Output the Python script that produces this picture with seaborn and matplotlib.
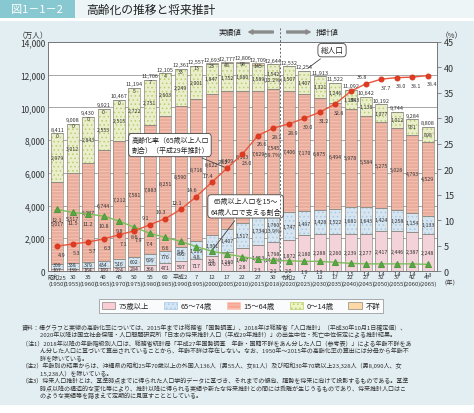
import numpy as np
import pandas as pd
import matplotlib
matplotlib.use('Agg')
import matplotlib.pyplot as plt
from matplotlib.patches import Patch, Rectangle, FancyArrowPatch
from matplotlib.lines import Line2D
import seaborn as sns

years = ['1950', '1955', '1960', '1965', '1970', '1975', '1980', '1985', '1990', '1995',
         '2000', '2005', '2010', '2015', '2018', '2020', '2025', '2030', '2035', '2040',
         '2045', '2050', '2055', '2060', '2065']
era = ['昭和25', '30', '35', '40', '45', '50', '55', '60', '平成2', '7', '12', '17', '22',
       '27', '30', '令和2', '7', '12', '17', '22', '27', '32', '37', '42', '47']
total = [8411, 9008, 9430, 9921, 10467, 11194, 11706, 12105, 12361, 12557, 12693, 12777,
         12806, 12709, 12644, 12532, 12254, 11913, 11522, 11092, 10642, 10192, 9744, 9284, 8808]
age_75 = [107, 139, 164, 189, 224, 284, 366, 471, 597, 717, 900, 1160, 1407, 1613, 1798,
          1872, 2180, 2288, 2260, 2239, 2277, 2417, 2446, 2387, 2248]
age_65_74 = [309, 338, 379, 434, 516, 602, 699, 776, 892, 1109, 1301, 1407, 1517, 1734, 1760,
             1747, 1497, 1428, 1522, 1681, 1643, 1424, 1258, 1154, 1133]
age_15_64 = [5017, 5517, 6047, 6744, 7212, 7581, 7883, 8251, 8590, 8716, 8622, 8409, 8103,
             7629, 7545, 7406, 7170, 6875, 6494, 5978, 5584, 5275, 5028, 4793, 4529]
age_0_14 = [2979, 3012, 2843, 2553, 2515, 2722, 2751, 2603, 2249, 2001, 1847, 1752, 1680,
            1589, 1542, 1507, 1407, 1321, 1246, 1194, 1138, 1077, 1012, 951, 898]
unknown = [0, 0, 0, 0, 0, 5, 7, 4, 33, 13, 23, 48, 98, 145, 0, 0, 0, 0, 0, 0, 0, 0, 0, 0, 0]
aging_rate = [4.9, 5.3, 5.7, 6.3, 7.1, 7.9, 9.1, 10.3, 12.1, 14.6, 17.4, 20.2, 23.0, 26.6,
              28.1, 28.9, 30.0, 31.2, 32.8, 35.3, 36.8, 37.7, 38.0, 38.1, 38.4]
support = [12.1, 11.5, 11.2, 10.8, 9.8, 8.6, 7.4, 6.6, 5.8, 4.8, 3.9, 3.3, 2.8, 2.3, 2.1,
           2.0, 1.9, 1.9, 1.7, 1.5, 1.4, 1.4, 1.4, 1.4, 1.3]
pct_2018 = {'age_0_14': '12.2%', 'age_15_64': '59.7%', 'age_65_74': '13.9%', 'age_75': '14.2%'}

notes = [
    '資料：棒グラフと実線の高齢化率については、2015年までは総務省「国勢調査」、2018年は総務省「人口推計」（平成30年10月1日確定値）、',
    '　　　2020年以降は国立社会保障・人口問題研究所「日本の将来推計人口（平成29年推計）」の出生中位・死亡中位仮定による推計結果。',
    '（注1）2018年以降の年齢階級別人口は、総務省統計局「平成27年国勢調査　年齢・国籍不詳をあん分した人口（参考表）」による年齢不詳をあ',
    '　　　ん分した人口に基づいて算出されていることから、年齢不詳は存在しない。なお、1950年～2015年の高齢化率の算出には分母から年齢不',
    '　　　詳を除いている。',
    '（注2）年齢別の結果からは、沖縄県の昭和25年70歳以上の外国人136人（男55人、女81人）及び昭和30年70歳以上23,328人（男8,090人、女',
    '　　　15,238人）を除いている。',
    '（注3）将来人口推計とは、基準時点までに得られた人口学的データに基づき、それまでの傾向、趨勢を将来に向けて投影するものである。基準',
    '　　　時点以降の構造的な変化等により、推計以降に得られる実績や新たな将来推計との間には乖離が生じうるものであり、将来推計人口はこ',
    '　　　のような実績等を踏まえて定期的に見直すこととしている。',
]

df = pd.DataFrame({'year': years, 'age_75': age_75, 'age_65_74': age_65_74,
                   'age_15_64': age_15_64, 'age_0_14': age_0_14, 'unknown': unknown})

sns.set_theme(style='white')
plt.rcParams['font.family'] = ['Noto Sans CJK JP', 'DejaVu Sans']
plt.rcParams['hatch.linewidth'] = 0.6

W, H = 474, 414
fig = plt.figure(figsize=(W / 100, H / 100), dpi=100)
fig.patch.set_facecolor('white')

def fx(px):
    return px / W

def fy(py):
    return 1 - py / H

# background panel and title strip
fig.add_artist(Rectangle((0, fy(406)), 1, fy(22) - fy(406), transform=fig.transFigure,
                         facecolor='#e3eef2', edgecolor='none', zorder=0))
fig.add_artist(Rectangle((fx(75), fy(19)), 1, fy(1) - fy(19), transform=fig.transFigure,
                         facecolor='#edf5f7', edgecolor='none', zorder=0))
fig.add_artist(Rectangle((0, fy(19)), fx(75), fy(1) - fy(19), transform=fig.transFigure,
                         facecolor='#88c9d1', edgecolor='none', zorder=1))
fig.text(fx(37), fy(10), '図1－1－2', color='white', fontsize=8, ha='center', va='center')
fig.text(fx(86), fy(10), '高齢化の推移と将来推計', color='#222222', fontsize=8.5,
         ha='left', va='center')

ax = fig.add_axes([fx(48), fy(272), fx(437) - fx(48), fy(43) - fy(272)])
ax.set_facecolor('white')

layers = [
    ('age_75', '75歳以上', '#f9ccd6', '#f9ccd6', None),
    ('age_65_74', '65～74歳', '#d3e6f5', '#a8c9e6', '....'),
    ('age_15_64', '15～64歳', '#f6a690', '#fac5b5', '-----'),
    ('age_0_14', '0～14歳', '#eef4c4', '#b8cf6e', '....'),
    ('unknown', '不詳', '#fbd8a6', '#fbd8a6', None),
]

bottom = np.zeros(len(years))
for col, lab, fc, hc, hatch in layers:
    sns.barplot(data=df, x='year', y=col, bottom=bottom.copy(), color=fc, width=0.78,
                edgecolor=hc, linewidth=0, hatch=hatch, errorbar=None, ax=ax, zorder=2)
    sns.barplot(data=df, x='year', y=col, bottom=bottom.copy(), color='#8a8a80', width=0.78,
                fill=False, linewidth=0.5, errorbar=None, ax=ax, zorder=3)
    bottom = bottom + df[col].to_numpy()

ax.set_xlim(-0.6, len(years) - 0.4)
ax.set_ylim(0, 14000)
ax.set_yticks(range(0, 14001, 2000))
ax.set_yticklabels([f'{v:,}' for v in range(0, 14001, 2000)], fontsize=6, color='#333333')
ax.yaxis.grid(True, color='#9a9a9a', linewidth=0.6, zorder=0)
ax.set_axisbelow(True)
ax.set_xticks(range(len(years)))
ax.set_xticklabels([f'{e}\n({y})' for e, y in zip(era, years)], fontsize=4.3,
                   color='#333333', linespacing=1.35)
ax.tick_params(axis='both', length=0, pad=2)
ax.set_xlabel('')
ax.set_ylabel('')
for s in ax.spines.values():
    s.set_color('#777777')
    s.set_linewidth(0.7)

# value labels inside the bars
lab_kw = dict(ha='center', va='center', fontsize=3.8, color='#333333', zorder=6)
for i in range(len(years)):
    b75 = age_75[i]
    b65 = b75 + age_65_74[i]
    b15 = b65 + age_15_64[i]
    b0 = b15 + age_0_14[i]
    extra = i == 14
    t75 = f'{age_75[i]:,}' + (f'\n({pct_2018["age_75"]})' if extra else '')
    t65 = f'{age_65_74[i]:,}' + (f'\n({pct_2018["age_65_74"]})' if extra else '')
    t15 = f'{age_15_64[i]:,}' + (f'\n({pct_2018["age_15_64"]})' if extra else '')
    t0 = f'{age_0_14[i]:,}' + (f'\n({pct_2018["age_0_14"]})' if extra else '')
    ax.text(i, max(b75 / 2, 110), t75, **lab_kw)
    ax.text(i, max(b75 + age_65_74[i] / 2, 400), t65, **lab_kw)
    ax.text(i, b65 + age_15_64[i] * 0.5, t15, **lab_kw)
    ax.text(i, b15 + age_0_14[i] / 2, t0, **lab_kw)
    if i <= 13:
        ax.text(i, b0 + unknown[i] - 140, f'{unknown[i]:,}', **lab_kw)
    ax.text(i, total[i] + 90, f'{total[i]:,}', ha='center', va='bottom', fontsize=4,
            color='#333333', zorder=6)

# lines on the percent axis
ax2 = ax.twinx()
xpos = np.arange(len(years))
sns.lineplot(x=xpos, y=support, ax=ax2, color='#7cbf5a', linewidth=1, marker='^',
             markersize=4, markeredgecolor='#4f9a3a', markerfacecolor='#5aa845', zorder=5)
sns.lineplot(x=xpos, y=aging_rate, ax=ax2, color='#e8563c', linewidth=1, marker='o',
             markersize=3.5, markeredgecolor='#d8341c', markerfacecolor='#e03c24', zorder=6)
ax2.set_xlim(-0.6, len(years) - 0.4)
ax2.set_ylim(0, 45)
ax2.set_yticks(range(0, 46, 5))
ax2.set_yticklabels([str(v) for v in range(0, 46, 5)], fontsize=6.5, color='#333333')
ax2.tick_params(axis='y', length=3, width=0.6, color='#777777', pad=2)
ax2.set_ylabel('')
ax2.grid(False)
for s in ax2.spines.values():
    s.set_visible(False)

for i in range(len(years)):
    # red labels: below early and projected points, above for 1980-2005 and 2045
    if 6 <= i <= 11 or i == 20:
        off = (-3, 5)
    else:
        off = (3, -6)
    ax2.annotate(f'{aging_rate[i]:.1f}', (i, aging_rate[i]), xytext=off,
                 textcoords='offset points', ha='center', va='center', fontsize=3.9,
                 color='#333333', zorder=7)
    ax2.annotate(f'{support[i]:.1f}', (i, support[i]), xytext=(0, -7),
                 textcoords='offset points', ha='center', va='center', fontsize=3.9,
                 color='#333333', zorder=7)

# callouts
box = dict(boxstyle='round,pad=0.35,rounding_size=0.5', facecolor='white',
           edgecolor='#444444', linewidth=0.6)
ax2.annotate('総人口', xy=(16.1, 12300 * 45 / 14000), xytext=(17.8, 13500 * 45 / 14000),
             fontsize=5.5, ha='center', va='center', bbox=box, zorder=8,
             arrowprops=dict(arrowstyle='-', color='#444444', lw=0.6))
ax2.annotate('高齢化率（65歳以上人口\n割合）（平成29年推計）', xy=(11, 20.2),
             xytext=(7.3, 7700 * 45 / 14000), fontsize=5, ha='center', va='center',
             bbox=box, zorder=8, linespacing=1.4,
             arrowprops=dict(arrowstyle='-', color='#444444', lw=0.6))
ax2.annotate('65歳以上人口を15～\n64歳人口で支える割合', xy=(10, 3.9),
             xytext=(12.2, 3950 * 45 / 14000), fontsize=5, ha='center', va='center',
             bbox=box, zorder=8, linespacing=1.4,
             arrowprops=dict(arrowstyle='-', color='#444444', lw=0.6))

# actual / projection divider
fig.add_artist(Line2D([fx(280), fx(280)], [fy(272), fy(28)], transform=fig.transFigure,
                      color='#666666', linewidth=0.7, linestyle=(0, (2, 2)), zorder=9))
fig.text(fx(241), fy(33), '実績値', fontsize=5.5, ha='right', va='center', color='#222222')
fig.text(fx(316), fy(33), '推計値', fontsize=5.5, ha='left', va='center', color='#222222')
fig.add_artist(FancyArrowPatch(
    (fx(276), fy(33)), (fx(246), fy(33)), transform=fig.transFigure,
    arrowstyle='simple,head_width=3,head_length=3,tail_width=1.4', color='#8a8a8a'))
fig.add_artist(FancyArrowPatch(
    (fx(284), fy(33)), (fx(313), fy(33)), transform=fig.transFigure,
    arrowstyle='simple,head_width=3,head_length=3,tail_width=1.4', color='#8a8a8a'))

fig.text(fx(33), fy(36), '（万人）', fontsize=5.5, ha='center', va='center', color='#333333')
fig.text(fx(452), fy(36), '（%）', fontsize=5.5, ha='center', va='center', color='#333333')
fig.text(fx(450), fy(283), '（年）', fontsize=4.5, ha='center', va='center', color='#333333')

# legend
handles = [Patch(facecolor=fc, edgecolor=hc if hatch else '#8a8a80', hatch=hatch,
                 linewidth=0.5, label=lab) for col, lab, fc, hc, hatch in layers]
leg = fig.legend(handles=handles, loc='center', bbox_to_anchor=(fx(241), fy(307)), ncol=5,
                 fontsize=5.3, frameon=True, handlelength=1.8, handleheight=0.9,
                 columnspacing=2.0, handletextpad=0.5, borderpad=0.45)
leg.get_frame().set_edgecolor('#888888')
leg.get_frame().set_linewidth(0.6)
leg.get_frame().set_facecolor('white')
leg.get_frame().set_boxstyle('square,pad=0')

# notes
for k, line in enumerate(notes):
    fig.text(fx(22), fy(328 + k * 7.6), line, fontsize=4.35, ha='left', va='center',
             color='#333333')

fig.savefig('out.png', dpi=100, facecolor=fig.get_facecolor())
